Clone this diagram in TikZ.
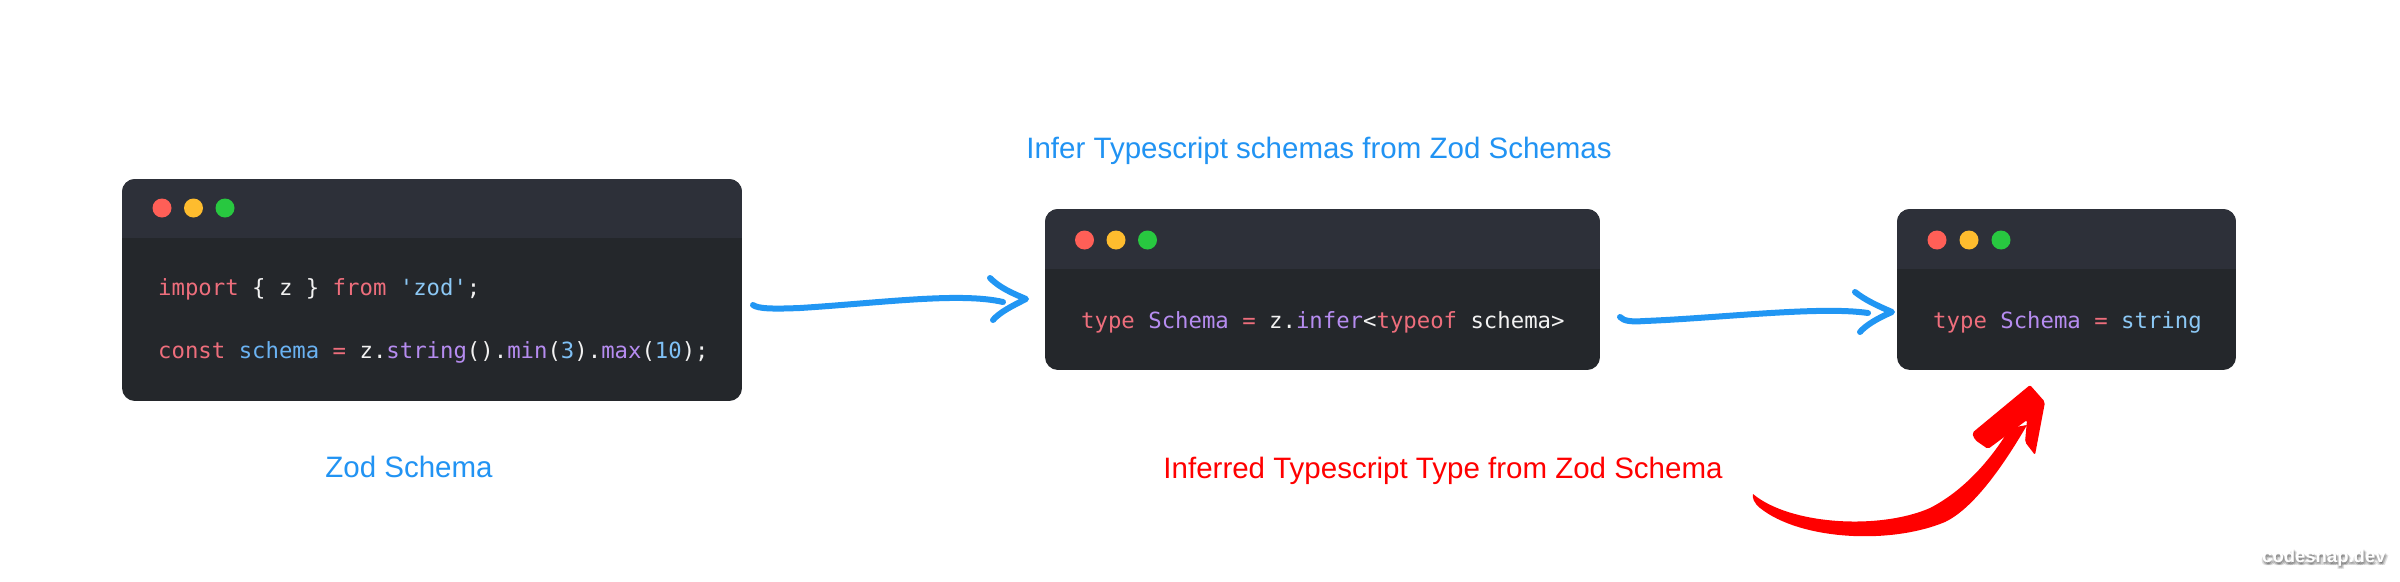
\documentclass[tikz,border=0pt]{standalone}
\usepackage{fontspec}
\setmainfont{Liberation Sans}
\setmonofont{DejaVu Sans Mono}
\usetikzlibrary{calc}
\definecolor{barc}{HTML}{2D3039}
\definecolor{bodyc}{HTML}{24272B}
\definecolor{kwc}{HTML}{EE6E7C}
\definecolor{strc}{HTML}{8CC8F5}
\definecolor{varc}{HTML}{6AB2F2}
\definecolor{fnc}{HTML}{B68CF0}
\definecolor{numc}{HTML}{7FC0F5}
\definecolor{plainc}{HTML}{F2F2F2}
\definecolor{dotr}{HTML}{FF5F57}
\definecolor{doty}{HTML}{FEBC2E}
\definecolor{dotg}{HTML}{28C840}
\definecolor{lblue}{HTML}{2193F3}
\definecolor{arrowblue}{HTML}{2196F3}
\newcommand{\ckw}[1]{\textcolor{kwc}{#1}}
\newcommand{\cstr}[1]{\textcolor{strc}{#1}}
\newcommand{\cvar}[1]{\textcolor{varc}{#1}}
\newcommand{\cfn}[1]{\textcolor{fnc}{#1}}
\newcommand{\cnum}[1]{\textcolor{numc}{#1}}
\newcommand{\cpl}[1]{\textcolor{plainc}{#1}}
\begin{document}
\begin{tikzpicture}[x=1pt,y=-1pt,
  win/.style={inner sep=0pt, outer sep=0pt, anchor=north west},
  wdot/.style={circle, inner sep=0pt, minimum size=19pt},
  code/.style={inner sep=0pt, anchor=base west, font=\ttfamily\fontsize{22.3}{26}\selectfont},
  lbl/.style={inner sep=0pt, anchor=base, text=lblue, font=\fontsize{29.5}{34}\selectfont},
  rlbl/.style={lbl, text=red},
  barrow/.style={draw=arrowblue, line width=6pt, line cap=round, line join=round},
  wm/.style={inner sep=0pt, anchor=base west, font=\bfseries\fontsize{18.5}{22}\selectfont}
]
\useasboundingbox (0,0) rectangle (2400,581);
\fill[white] (0,0) rectangle (2400,581);

% windows
\node[win, minimum width=620pt, minimum height=222pt] (w1) at (122,179) {};
\node[win, minimum width=555pt, minimum height=161pt] (w2) at (1045,209) {};
\node[win, minimum width=339pt, minimum height=161pt] (w3) at (1897,209) {};
\foreach \w/\h in {w1/59, w2/60, w3/60}{
  \begin{scope}
    \clip[rounded corners=13pt] (\w.north west) rectangle (\w.south east);
    \fill[bodyc] (\w.north west) rectangle (\w.south east);
    \fill[barc] (\w.north west) rectangle ($(\w.north east)+(0,\h)$);
  \end{scope}
}
% traffic lights
\node[wdot, fill=dotr] (w1r) at ($(w1.north west)+(40,29)$) {};
\node[wdot, fill=doty] (w1y) at ($(w1.north west)+(71.5,29)$) {};
\node[wdot, fill=dotg] (w1g) at ($(w1.north west)+(103,29)$) {};
\node[wdot, fill=dotr] (w2r) at ($(w2.north west)+(39.5,31)$) {};
\node[wdot, fill=doty] (w2y) at ($(w2.north west)+(71,31)$) {};
\node[wdot, fill=dotg] (w2g) at ($(w2.north west)+(102.5,31)$) {};
\node[wdot, fill=dotr] (w3r) at ($(w3.north west)+(40,31)$) {};
\node[wdot, fill=doty] (w3y) at ($(w3.north west)+(72,31)$) {};
\node[wdot, fill=dotg] (w3g) at ($(w3.north west)+(104,31)$) {};

% code
\node[code] (c1) at (158,295) {\ckw{import} \cpl{\{ z \}} \ckw{from} \cstr{'zod'}\cpl{;}};
\node[code] (c2) at (158,358) {\ckw{const} \cvar{schema} \ckw{=} \cpl{z.}\cfn{string}\cpl{().}\cfn{min}\cpl{(}\cnum{3}\cpl{).}\cfn{max}\cpl{(}\cnum{10}\cpl{);}};
\node[code] (c3) at (1081,328) {\ckw{type} \cfn{Schema} \ckw{=} \cpl{z.}\cfn{infer}\cpl{<}\ckw{typeof} \cpl{schema>}};
\node[code] (c4) at (1933,328) {\ckw{type} \cfn{Schema} \ckw{=} \cstr{string}};

% labels
\node[lbl] (t1) at (1319,158) {Infer Typescript schemas from Zod Schemas};
\node[lbl] (t2) at (409,477) {Zod Schema};
\node[rlbl] (t3) at (1443,478) {Inferred Typescript Type from Zod Schema};

% blue arrows
\coordinate (a1s) at (753,305);
\coordinate (a1e) at (1003,302);
\coordinate (a1t) at (1026,299);
\coordinate (a1u) at (990,278);
\coordinate (a1l) at (993,320);
\draw[barrow] (a1s) .. controls (758,309) and (775,309) .. (800,308) .. controls (880,303) and (960,292) .. (a1e);
\draw[barrow] (a1u) .. controls (1000,288) and (1012,293) .. (a1t) .. controls (1012,306) and (1000,312) .. (a1l);

\coordinate (a2s) at (1620,317);
\coordinate (a2e) at (1868,313);
\coordinate (a2t) at (1892,312);
\coordinate (a2u) at (1855,292);
\coordinate (a2l) at (1860,332);
\draw[barrow] (a2s) .. controls (1624,321) and (1630,322) .. (1645,321) .. controls (1720,318) and (1820,306) .. (a2e);
\draw[barrow] (a2u) .. controls (1865,300) and (1878,306) .. (a2t) .. controls (1878,318) and (1866,325) .. (a2l);

% red arrow
\coordinate (r0) at (1753,494);
\fill[red] (r0) .. controls (1790,525) and (1880,530) .. (1930,508)
  .. controls (1965,490) and (1992,458) .. (2010,428)
  -- (2027,425)
  .. controls (1998,475) and (1970,510) .. (1945,522)
  .. controls (1890,545) and (1800,540) .. (1760,508)
  .. controls (1754,503) and (1752,498) .. cycle;
\fill[red, rounded corners=2pt] (1972,433) -- (2030,385) -- (2045,402) -- (2035,455) -- (2025,442) -- (2027,420) -- (1988,449) -- (1975,440) -- cycle;

% watermark
\foreach \dx/\dy in {0/2, 2/2, 1/3, -1/3, 3/3, 1/1}{
  \node[wm, text=black, opacity=0.12] at (2262+\dx,562+\dy) {codesnap.dev};
}
\node[wm, text=white] (wmk) at (2262,562) {codesnap.dev};
\end{tikzpicture}
\end{document}
